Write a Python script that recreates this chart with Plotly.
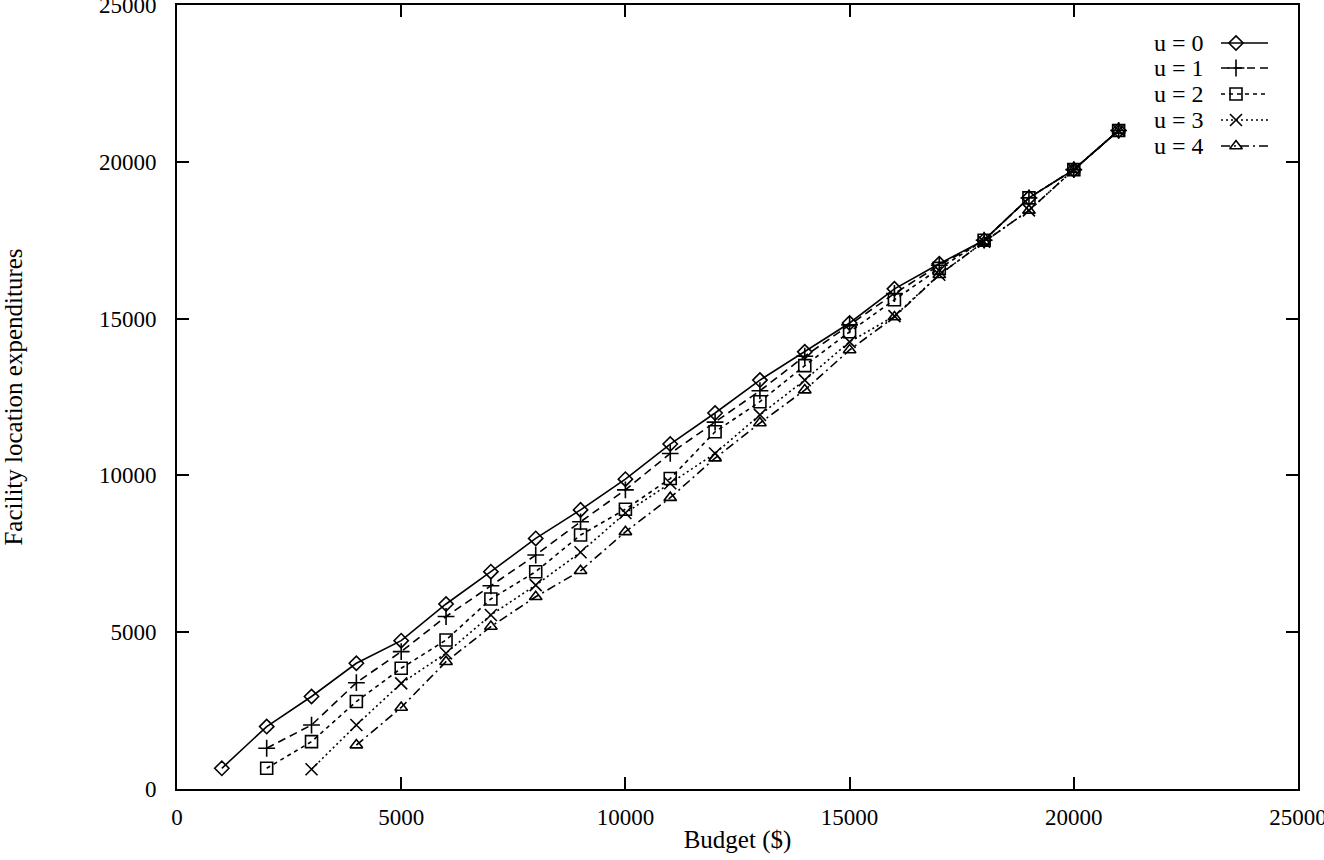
import plotly.graph_objects as go

# ---------------- data ----------------
budget = [1000, 2000, 3000, 4000, 5000, 6000, 7000, 8000, 9000, 10000, 11000,
          12000, 13000, 14000, 15000, 16000, 17000, 18000, 19000, 20000, 21000]

u0 = [660, 1990, 2950, 4010, 4730, 5900, 6930, 7990, 8900, 9880, 11000,
      11990, 13040, 13940, 14860, 15950, 16750, 17500, 18850, 19750, 21000]
u1 = [None, 1300, 2040, 3390, 4380, 5500, 6480, 7460, 8520, 9540, 10700,
      11700, 12700, 13800, 14800, 15800, 16700, 17500, 18850, 19750, 21000]
u2 = [None, 660, 1510, 2790, 3850, 4750, 6060, 6930, 8100, 8920, 9900,
      11390, 12350, 13500, 14580, 15600, 16600, 17500, 18850, 19750, 21000]
u3 = [None, None, 630, 2040, 3370, 4330, 5550, 6500, 7550, 8800, 9750,
      10700, 11930, 13040, 14260, 15080, 16400, 17450, 18450, 19750, 21000]
u4 = [None, None, None, 1400, 2600, 4060, 5180, 6130, 6960, 8200, 9290,
      10550, 11670, 12720, 14000, 15050, 16400, 17450, 18450, 19750, 21000]

series_names = ["u = 0", "u = 1", "u = 2", "u = 3", "u = 4"]
series_vals = [u0, u1, u2, u3, u4]

x_ticks = [0, 5000, 10000, 15000, 20000, 25000]
y_ticks = [0, 5000, 10000, 15000, 20000, 25000]

# ---------------- styles ----------------
symbols = ["diamond-open", "cross-thin-open", "square-open", "x-thin-open", "triangle-up-open"]
dashes = ["solid", "8px,5px", "4px,4px", "2px,3px", "9px,4px,2px,4px"]
msizes = [11, 12, 12, 12, 11]

FONT = "Liberation Serif"
fig = go.Figure()

for name, vals, sym, dsh, ms in zip(series_names, series_vals, symbols, dashes, msizes):
    xs = [b for b, v in zip(budget, vals) if v is not None]
    ys = [v for v in vals if v is not None]
    fig.add_trace(go.Scatter(
        x=xs, y=ys, mode="lines+markers", name=name, showlegend=False,
        line=dict(color="black", width=1.6, dash=dsh),
        marker=dict(symbol=sym, size=ms, color="black",
                    line=dict(color="black", width=1.6)),
    ))

# ---------------- custom gnuplot-style key (text left, sample right) ----------------
key_rows = [43, 68, 94, 120, 146]
for i, (name, sym, dsh, ms) in enumerate(zip(series_names, symbols, dashes, msizes)):
    yk = key_rows[i]
    fig.add_trace(go.Scatter(
        x=[1221, 1268], y=[yk, yk], mode="lines", xaxis="x2", yaxis="y2",
        showlegend=False, hoverinfo="skip",
        line=dict(color="black", width=1.6, dash=dsh)))
    fig.add_trace(go.Scatter(
        x=[1236], y=[yk], mode="markers", xaxis="x2", yaxis="y2",
        showlegend=False, hoverinfo="skip",
        marker=dict(symbol=sym, size=ms, color="black",
                    line=dict(color="black", width=1.6))))
    fig.add_annotation(x=1206, y=yk, xref="x2", yref="y2", text=name,
                       showarrow=False, xanchor="right", yanchor="middle",
                       height=24, font=dict(family=FONT, size=24, color="black"))

axis_common = dict(
    showgrid=False, zeroline=False, showline=True, linecolor="black", linewidth=2,
    mirror="allticks", ticks="inside", ticklen=12, tickwidth=1.5, tickcolor="black",
    tickfont=dict(family=FONT, size=23, color="black"), ticklabeloverflow="allow",
    automargin=False,
)

fig.update_layout(
    width=1324, height=860,
    margin=dict(l=177, r=26, t=5, b=71),
    paper_bgcolor="white", plot_bgcolor="white",
    showlegend=False,
    xaxis=dict(range=[0, 25000], tickvals=x_ticks, ticktext=[str(v) for v in x_ticks],
               title=dict(text="Budget ($)", font=dict(family=FONT, size=25, color="black"),
                          standoff=2),
               ticklabelstandoff=6, **axis_common),
    yaxis=dict(range=[0, 25000], tickvals=y_ticks, ticktext=[str(v) for v in y_ticks],
               title=dict(text="Facility location expenditures",
                          font=dict(family=FONT, size=25, color="black"), standoff=78),
               ticklabelstandoff=14, **axis_common),
    xaxis2=dict(overlaying="x", range=[177, 1298], visible=False, fixedrange=True),
    yaxis2=dict(overlaying="y", range=[789, 5], visible=False, fixedrange=True),
)

fig.write_html("out.html")
